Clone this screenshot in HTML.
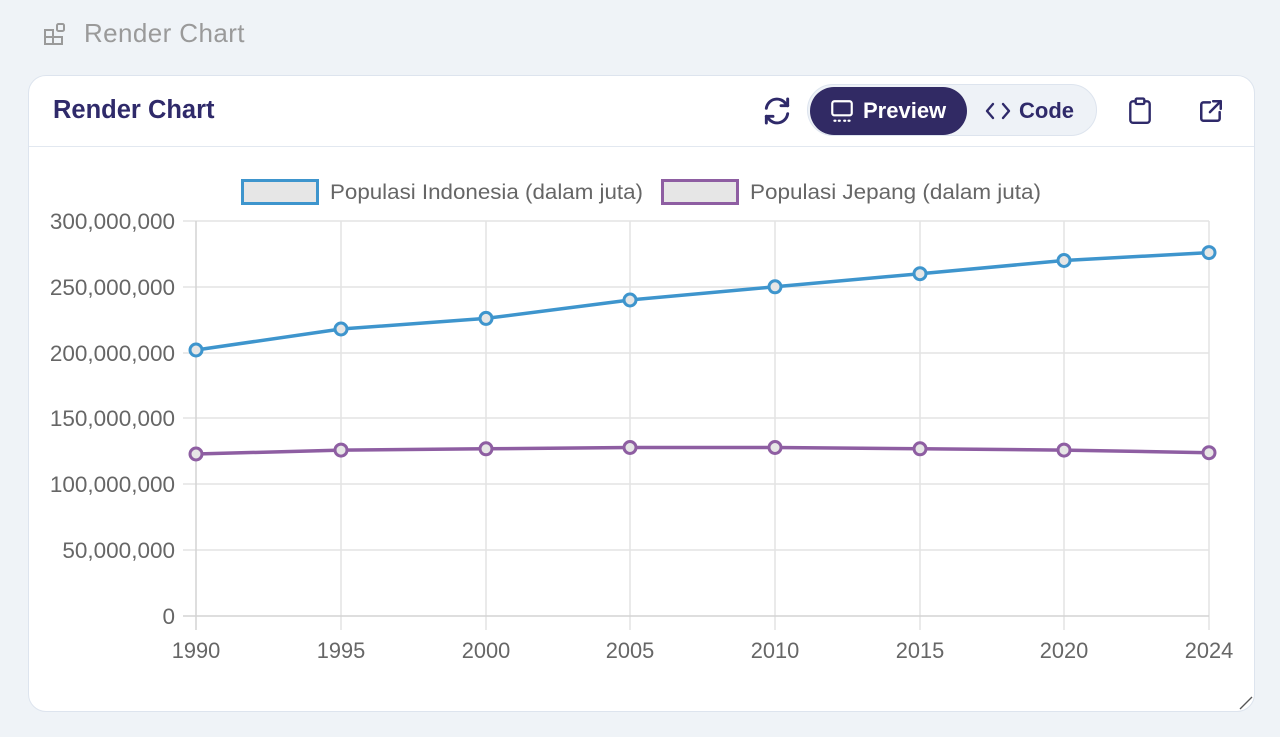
<!DOCTYPE html>
<html><head><meta charset="utf-8">
<style>
html,body{margin:0;padding:0;}
body{width:1280px;height:737px;background:#eff3f7;position:relative;overflow:hidden;font-family:"Liberation Sans",Arial,sans-serif;}
.top{position:absolute;left:84px;top:17px;font-size:26px;letter-spacing:0.4px;color:#9a9a9a;line-height:32px;}
.card{position:absolute;left:28px;top:75px;width:1227px;height:637px;background:#fff;border:1px solid #dde4ee;border-radius:18px;box-sizing:border-box;}
.hdr{position:absolute;left:0;top:0;right:0;height:70px;border-bottom:1px solid #e2e8f0;}
.title{position:absolute;left:24px;top:19px;font-size:25.5px;font-weight:bold;color:#2f2a6a;line-height:30px;}
.tog{position:absolute;left:778px;top:8px;width:290px;height:52px;background:#eef2f7;border:1px solid #dde4ee;border-radius:27px;box-sizing:border-box;}
.prev{position:absolute;left:2px;top:2px;width:157px;height:48px;background:#312a64;border-radius:24px;}
.prev span{position:absolute;left:53px;top:10px;font-size:22px;font-weight:bold;color:#fff;line-height:28px;}
.code{position:absolute;left:211px;top:12px;font-size:22px;font-weight:bold;color:#2f2a6a;line-height:28px;}
svg{position:absolute;left:0;top:0;}
</style></head>
<body>
<div class="top">Render Chart</div>
<svg width="30" height="30" style="left:42px;top:20px;">
  <rect x="3" y="10" width="8" height="7" fill="none" stroke="#9a9a9a" stroke-width="2"/>
  <rect x="3" y="17" width="8" height="7" fill="none" stroke="#9a9a9a" stroke-width="2"/>
  <rect x="11" y="17" width="9" height="7" fill="none" stroke="#9a9a9a" stroke-width="2"/>
  <rect x="15" y="4" width="7" height="7" rx="1.5" fill="none" stroke="#9a9a9a" stroke-width="2"/>
</svg>
<div class="card">
  <div class="hdr">
    <div class="title">Render Chart</div>
    <svg width="32" height="32" style="left:732px;top:19px;" viewBox="0 0 24 24" fill="none" stroke="#2f2a6a" stroke-width="2.2" stroke-linecap="round" stroke-linejoin="round">
      <path d="M4 10a8 8 0 0 1 14.5-3.5L20 8"/><path d="M20 3v5h-5"/>
      <path d="M20 14a8 8 0 0 1-14.5 3.5L4 16"/><path d="M4 21v-5h5"/>
    </svg>
    <div class="tog">
      <div class="prev">
        <svg width="26" height="26" style="left:19px;top:11px;" viewBox="0 0 24 24" fill="none" stroke="#fff" stroke-width="2" stroke-linecap="round">
          <rect x="3" y="3" width="18" height="13" rx="2"/>
          <path d="M5 21h1M9 21h1M14 21h1M18 21h1"/>
        </svg>
        <span>Preview</span>
      </div>
      <svg width="30" height="24" style="left:176px;top:14px;" viewBox="0 0 30 24" fill="none" stroke="#2f2a6a" stroke-width="2.4" stroke-linecap="round" stroke-linejoin="round">
        <path d="M9 5l-6 7 6 7"/><path d="M19 5l6 7-6 7"/>
      </svg>
      <div class="code">Code</div>
    </div>
    <svg width="26" height="28" style="left:1098px;top:21px;" viewBox="0 0 24 26" fill="none" stroke="#2f2a6a" stroke-width="2.2" stroke-linejoin="round">
      <rect x="3" y="4" width="18" height="20" rx="2.5"/>
      <rect x="8" y="1.5" width="8" height="5" rx="1.2" fill="#fff"/>
    </svg>
    <svg width="26" height="26" style="left:1169px;top:22px;" viewBox="0 0 24 24" fill="none" stroke="#2f2a6a" stroke-width="2.3" stroke-linecap="round" stroke-linejoin="round">
      <path d="M11 4H5a2 2 0 0 0-2 2v13a2 2 0 0 0 2 2h13a2 2 0 0 0 2-2v-6"/>
      <path d="M14 3h7v7"/><path d="M21 3L11 13"/>
    </svg>
  </div>
</div>
<svg width="1280" height="737" style="left:0;top:0;">
  <g stroke="#e3e3e3" stroke-width="1.5">
    <line x1="183" y1="221" x2="1209" y2="221"/>
    <line x1="183" y1="287" x2="1209" y2="287"/>
    <line x1="183" y1="353" x2="1209" y2="353"/>
    <line x1="183" y1="418" x2="1209" y2="418"/>
    <line x1="183" y1="484" x2="1209" y2="484"/>
    <line x1="183" y1="550" x2="1209" y2="550"/>
    <line x1="341" y1="221" x2="341" y2="630"/>
    <line x1="486" y1="221" x2="486" y2="630"/>
    <line x1="630" y1="221" x2="630" y2="630"/>
    <line x1="775" y1="221" x2="775" y2="630"/>
    <line x1="920" y1="221" x2="920" y2="630"/>
    <line x1="1064" y1="221" x2="1064" y2="630"/>
    <line x1="1209" y1="221" x2="1209" y2="630"/>
  </g>
  <g stroke="#d4d4d4" stroke-width="1.5">
    <line x1="183" y1="616" x2="1209" y2="616"/>
    <line x1="196" y1="221" x2="196" y2="630"/>
  </g>
  <g font-family="Liberation Sans, Arial, sans-serif" font-size="22.5" fill="#666" text-anchor="end">
    <text x="175" y="229">300,000,000</text>
    <text x="175" y="295">250,000,000</text>
    <text x="175" y="361">200,000,000</text>
    <text x="175" y="426">150,000,000</text>
    <text x="175" y="492">100,000,000</text>
    <text x="175" y="558">50,000,000</text>
    <text x="175" y="624">0</text>
  </g>
  <g font-family="Liberation Sans, Arial, sans-serif" font-size="21.8" fill="#666" text-anchor="middle">
    <text x="196" y="658">1990</text>
    <text x="341" y="658">1995</text>
    <text x="486" y="658">2000</text>
    <text x="630" y="658">2005</text>
    <text x="775" y="658">2010</text>
    <text x="920" y="658">2015</text>
    <text x="1064" y="658">2020</text>
    <text x="1209" y="658">2024</text>
  </g>
  <rect x="242.5" y="180.5" width="75" height="23" fill="#e6e6e6" stroke="#3e95cd" stroke-width="3"/>
  <text x="330" y="199" font-family="Liberation Sans, Arial, sans-serif" font-size="21" fill="#666" textLength="313" lengthAdjust="spacingAndGlyphs">Populasi Indonesia (dalam juta)</text>
  <rect x="662.5" y="180.5" width="75" height="23" fill="#e6e6e6" stroke="#8e5ea2" stroke-width="3"/>
  <text x="750" y="199" font-family="Liberation Sans, Arial, sans-serif" font-size="21" fill="#666" textLength="291" lengthAdjust="spacingAndGlyphs">Populasi Jepang (dalam juta)</text>
  <polyline fill="none" stroke="#3e95cd" stroke-width="3.5" stroke-linejoin="round" points="196,350 341,329 486,318.4 630,300 775,286.8 920,273.7 1064,260.5 1209,252.6"/>
  <polyline fill="none" stroke="#8e5ea2" stroke-width="3.5" stroke-linejoin="round" points="196,454 341,450.1 486,448.8 630,447.5 775,447.5 920,448.8 1064,450.1 1209,452.7"/>
  <g fill="#e6e6e6" stroke="#3e95cd" stroke-width="3">
    <circle cx="196" cy="350" r="6"/><circle cx="341" cy="329" r="6"/><circle cx="486" cy="318.4" r="6"/><circle cx="630" cy="300" r="6"/>
    <circle cx="775" cy="286.8" r="6"/><circle cx="920" cy="273.7" r="6"/><circle cx="1064" cy="260.5" r="6"/><circle cx="1209" cy="252.6" r="6"/>
  </g>
  <g fill="#e6e6e6" stroke="#8e5ea2" stroke-width="3">
    <circle cx="196" cy="454" r="6"/><circle cx="341" cy="450.1" r="6"/><circle cx="486" cy="448.8" r="6"/><circle cx="630" cy="447.5" r="6"/>
    <circle cx="775" cy="447.5" r="6"/><circle cx="920" cy="448.8" r="6"/><circle cx="1064" cy="450.1" r="6"/><circle cx="1209" cy="452.7" r="6"/>
  </g>
  <line x1="1240" y1="709" x2="1252" y2="697" stroke="#555" stroke-width="1.3"/>
</svg>
</body></html>
